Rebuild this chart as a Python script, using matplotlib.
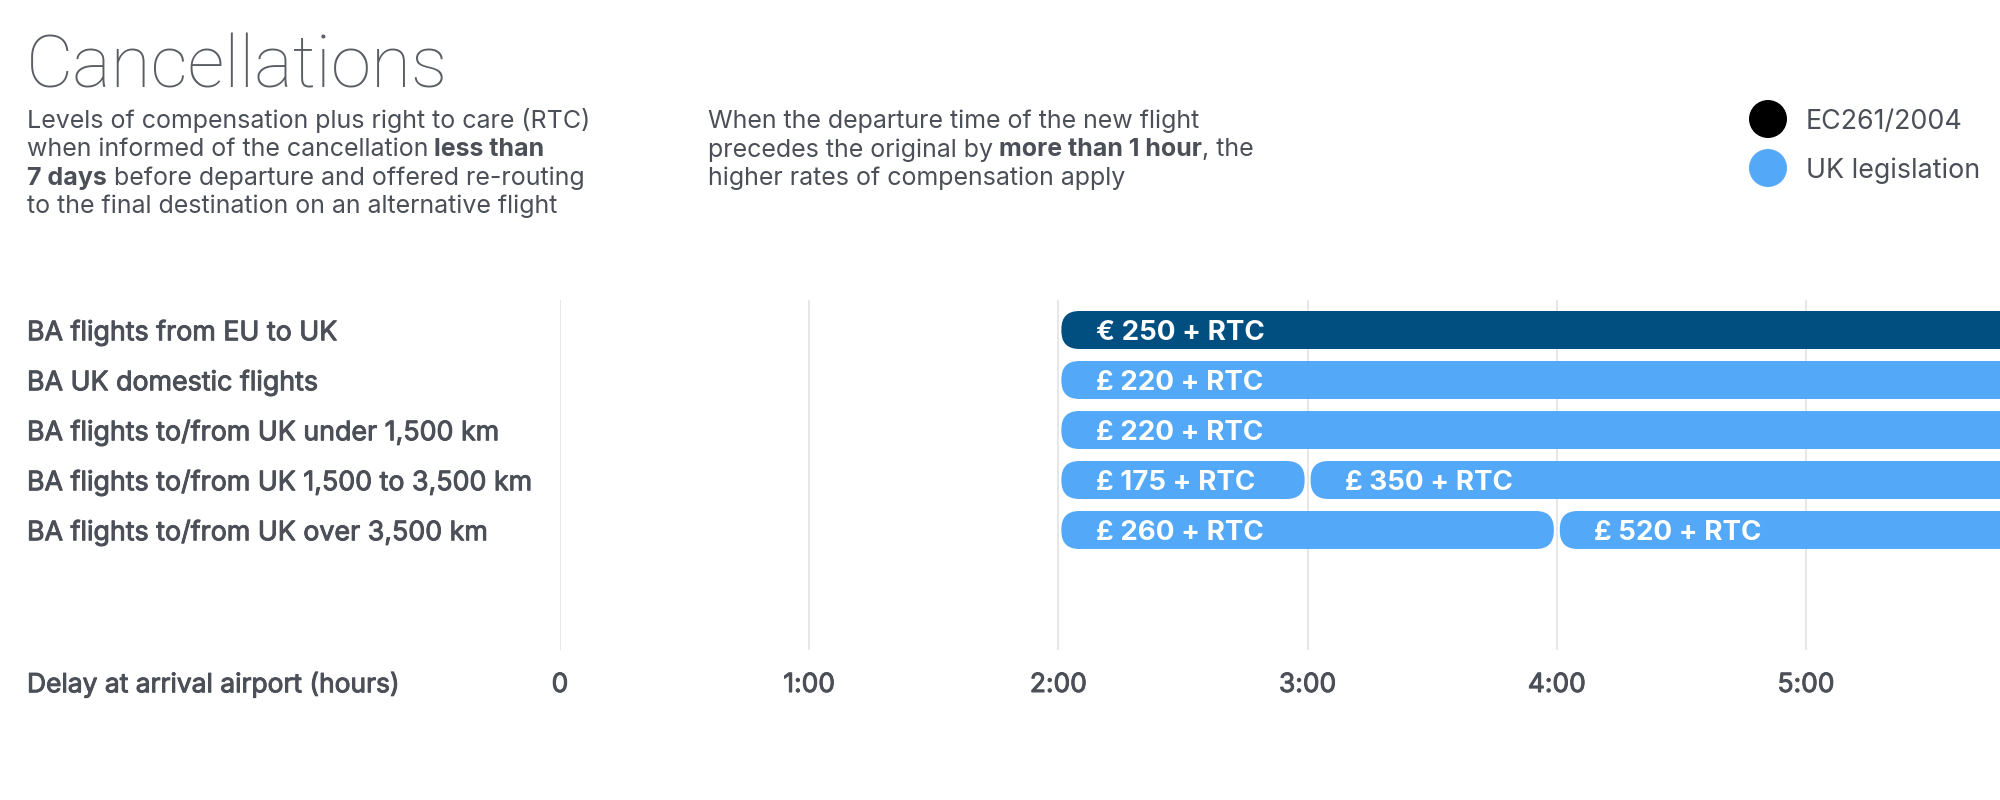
import numpy as np
import matplotlib.pyplot as plt
import matplotlib.patheffects as pe
from matplotlib.patches import FancyBboxPatch, Ellipse
from matplotlib.transforms import blended_transform_factory
from matplotlib.font_manager import FontProperties

plt.rcParams['font.family'] = ['Inter', 'DejaVu Sans']

# data
rows = ["BA flights from EU to UK",
        "BA UK domestic flights",
        "BA flights to/from UK under 1,500 km",
        "BA flights to/from UK 1,500 to 3,500 km",
        "BA flights to/from UK over 3,500 km"]
seg_row = [0, 1, 2, 3, 3, 4, 4]
seg_start = [2, 2, 2, 2, 3, 2, 4]
seg_end = [7, 7, 7, 3, 7, 4, 7]
seg_amount = ["€ 250", "£ 220", "£ 220", "£ 175", "£ 350", "£ 260", "£ 520"]
seg_law = ["EC261/2004", "UK legislation", "UK legislation", "UK legislation",
           "UK legislation", "UK legislation", "UK legislation"]
hours = [0, 1, 2, 3, 4, 5]
hour_labels = ["0", "1:00", "2:00", "3:00", "4:00", "5:00"]

law_colors = {"EC261/2004": "#004f80", "UK legislation": "#53a8f7"}
legend_colors = {"EC261/2004": "#000000", "UK legislation": "#53a8f7"}
txt = '#4b4f57'
medium = [pe.withStroke(linewidth=0.7, foreground=txt)]

W, H = 2000, 800
fig = plt.figure(figsize=(20, 8), dpi=100)
ax = fig.add_axes([560 / W, 1 - 650 / H, 1 - 560 / W, 350 / H])

px_hour = 249.2
px_row = 50.0
ax.set_xlim(0, (W - 560) / px_hour)
ax.set_ylim(6.4, -0.6)
for s in ax.spines.values():
    s.set_visible(False)
ax.set_xticks(hours)
ax.set_yticks([])
ax.tick_params(length=0, labelbottom=False)
ax.grid(axis='x', color='#e3e3e3', lw=1.2)
ax.set_axisbelow(True)

bar_h = 0.76
gap = 0.012
rs = 18 / px_hour
asp = px_hour / px_row
for r, s0, e0, amt, law in zip(seg_row, seg_start, seg_end, seg_amount, seg_law):
    p = FancyBboxPatch((s0 + gap, r - bar_h / 2), e0 - s0 - 2 * gap, bar_h,
                       boxstyle=f"round,pad=0,rounding_size={rs}",
                       mutation_aspect=asp, fc=law_colors[law], ec='none')
    ax.add_patch(p)
    ax.text(s0 + 0.15, r, amt + " + RTC", color='white', fontsize=20,
            fontweight='bold', va='center_baseline', ha='left')

# row labels
lab_tr = blended_transform_factory(fig.transFigure, ax.transData)
for i, name in enumerate(rows):
    ax.text(27 / W, i, name, transform=lab_tr, fontsize=19.3,
            color=txt, va='center_baseline', ha='left', clip_on=False,
            path_effects=medium)

# x tick labels
tick_tr = blended_transform_factory(ax.transData, fig.transFigure)
for h_, l_ in zip(hours, hour_labels):
    ax.text(h_, 1 - 682 / H, l_, transform=tick_tr, fontsize=19,
            color=txt, ha='center', va='center_baseline', clip_on=False,
            path_effects=medium)
fig.text(27 / W, 1 - 682 / H, "Delay at arrival airport (hours)", fontsize=19,
         color=txt, ha='left', va='center_baseline', path_effects=medium)

# title
fig.text(26 / W, 1 - 88 / H, "Cancellations", fontsize=52.5, fontweight='light',
         family=['Roboto', 'DejaVu Sans'], color='#5a5e64', va='baseline', ha='left')

# subtitle paragraphs with bold parts
renderer = fig.canvas.get_renderer()
sub_size = 18


def space_pts(weight):
    fp = FontProperties(family=['Inter', 'DejaVu Sans'], size=sub_size, weight=weight)
    w1 = renderer.get_text_width_height_descent("a a", fp, ismath=False)[0]
    w2 = renderer.get_text_width_height_descent("aa", fp, ismath=False)[0]
    return (w1 - w2) * 72 / fig.dpi


def rich_line(x, y, parts):
    first, w = parts[0]
    t = ax.text(x, y, first, transform=fig.transFigure, fontsize=sub_size,
                fontweight=w, color=txt, va='baseline', ha='left', clip_on=False)
    for s, w in parts[1:]:
        off = 0
        if s.startswith(' '):
            off = space_pts(w)
            s = s[1:]
        t = ax.annotate(s, xy=(1, 0), xycoords=t, xytext=(off, 0),
                        textcoords='offset points', fontsize=sub_size, fontweight=w,
                        color=txt, va='bottom', ha='left', annotation_clip=False)


para1 = [[("Levels of compensation plus right to care (RTC)", 'normal')],
         [("when informed of the cancellation", 'normal'), (" less than", 'bold')],
         [("7 days", 'bold'), (" before departure and offered re-routing", 'normal')],
         [("to the final destination on an alternative flight", 'normal')]]
para2 = [[("When the departure time of the new flight", 'normal')],
         [("precedes the original by", 'normal'), (" more than 1 hour", 'bold'),
          (", the", 'normal')],
         [("higher rates of compensation apply", 'normal')]]
base_y = [128, 156.5, 185, 213.5]
for i, line in enumerate(para1):
    rich_line(27 / W, 1 - base_y[i] / H, line)
for i, line in enumerate(para2):
    rich_line(708 / W, 1 - base_y[i] / H, line)

# legend
for j, law in enumerate(["EC261/2004", "UK legislation"]):
    cy = [119, 168][j]
    fig.add_artist(Ellipse((1768 / W, 1 - cy / H), 38 / W, 38 / H,
                           transform=fig.transFigure, fc=legend_colors[law], ec='none'))
    fig.text(1806 / W, 1 - cy / H, law, fontsize=19.3, color=txt,
             va='center_baseline', ha='left')

fig.savefig('out.png', dpi=100)
